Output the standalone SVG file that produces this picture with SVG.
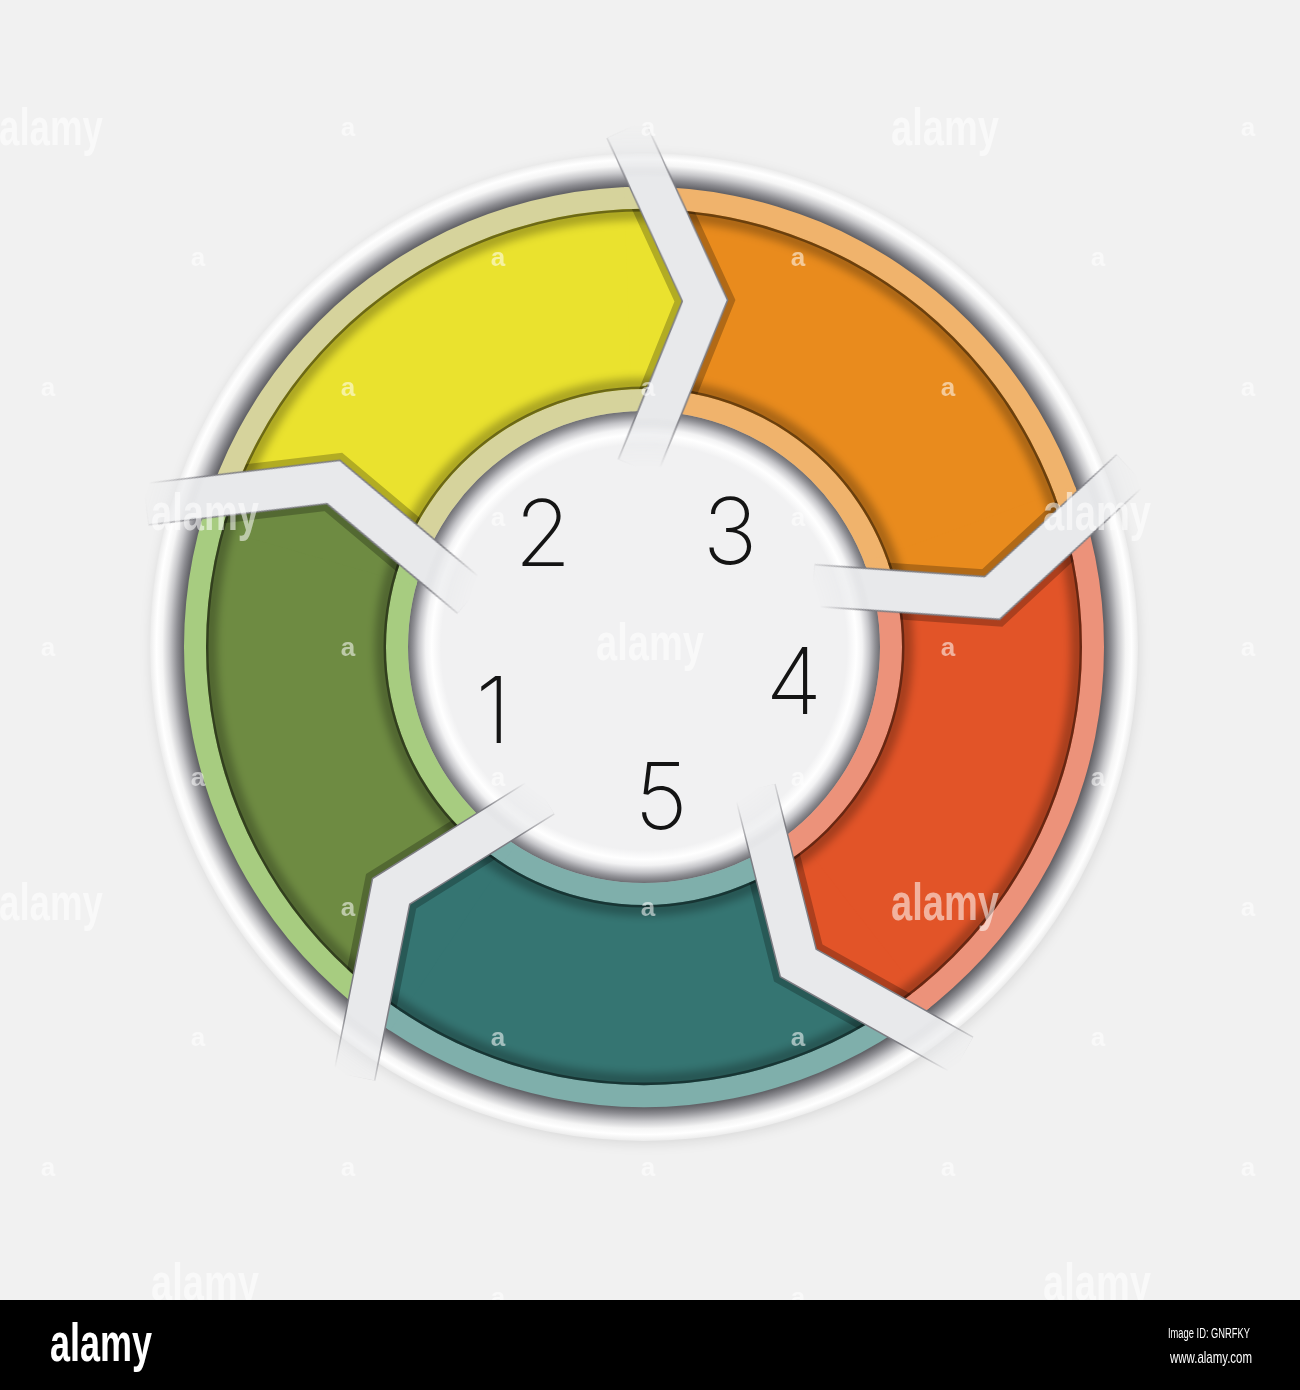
<svg xmlns="http://www.w3.org/2000/svg" xmlns:xlink="http://www.w3.org/1999/xlink" width="1300" height="1390" viewBox="0 0 1300 1390">
<style>
.num{font-family:Inter,"Noto Sans","Open Sans",sans-serif;font-weight:200;font-size:92px;fill:#141414;text-anchor:middle}
.wm{font-family:"Liberation Sans Narrow","Liberation Sans",sans-serif;font-weight:bold;font-size:52px;fill:#ffffff;fill-opacity:.55;text-anchor:middle}
.wa{font-family:"Liberation Sans Narrow","Liberation Sans",sans-serif;font-weight:bold;font-size:26px;fill:#ffffff;fill-opacity:.55;text-anchor:middle}
.foot{font-family:"Liberation Sans Narrow","Liberation Sans",sans-serif;fill:#ffffff}
</style>
<defs>
<polygon id="wedge" points="0,0 180,0 344,73 518,0 700,0 566.3,411.5 216.3,665.7"/>
<polygon id="head" points="180,0 344,73 518,0 518,-4 180,-4"/>
<polyline id="gapline" points="180,0 344,73 518,0" fill="none"/>
<clipPath id="bandClip"><path clip-rule="evenodd" d="M184,647 A460,460 0 1 0 1104,647 A460,460 0 1 0 184,647 Z M408,647 A236,236 0 1 0 880,647 A236,236 0 1 0 408,647 Z"/></clipPath>
<clipPath id="fillClip"><path clip-rule="evenodd" d="M206,647 A438,438 0 1 0 1082,647 A438,438 0 1 0 206,647 Z M386,647 A258,258 0 1 0 902,647 A258,258 0 1 0 386,647 Z"/></clipPath>
<radialGradient id="plateGrad" gradientUnits="userSpaceOnUse" cx="644" cy="647" r="494">
<stop offset="0" stop-color="#f1f1f1"/>
<stop offset="0.92" stop-color="#5c5c61"/>
<stop offset="0.933" stop-color="#646469"/>
<stop offset="0.945" stop-color="#8c8c91"/>
<stop offset="0.96" stop-color="#c7c7ca"/>
<stop offset="0.975" stop-color="#f5f5f5"/>
<stop offset="0.987" stop-color="#ffffff"/>
<stop offset="1" stop-color="#ececec"/>
</radialGradient>
<radialGradient id="diskGrad" gradientUnits="userSpaceOnUse" cx="644" cy="647" r="236">
<stop offset="0" stop-color="#f1f1f2"/>
<stop offset="0.86" stop-color="#f1f1f2"/>
<stop offset="0.9" stop-color="#ffffff"/>
<stop offset="0.925" stop-color="#f3f3f4"/>
<stop offset="0.955" stop-color="#c4c4c8"/>
<stop offset="0.98" stop-color="#909095"/>
<stop offset="1" stop-color="#6e6e73"/>
</radialGradient>
<radialGradient id="gapMaskGrad" gradientUnits="userSpaceOnUse" cx="644" cy="647" r="522">
<stop offset="0.345" stop-color="#000"/>
<stop offset="0.44" stop-color="#fff"/>
<stop offset="0.9" stop-color="#fff"/>
<stop offset="1" stop-color="#000"/>
</radialGradient>
<mask id="gapMask" maskUnits="userSpaceOnUse" x="0" y="0" width="1300" height="1300">
<rect x="0" y="0" width="1300" height="1300" fill="url(#gapMaskGrad)"/>
</mask>
<filter id="blur6" x="-20%" y="-20%" width="140%" height="140%"><feGaussianBlur stdDeviation="6"/></filter>
<filter id="blur4" x="-20%" y="-20%" width="140%" height="140%"><feGaussianBlur stdDeviation="4"/></filter>
</defs>

<rect x="0" y="0" width="1300" height="1300" fill="#f1f1f1"/>

<g id="plate">
<circle cx="645" cy="650" r="494" fill="#000" fill-opacity="0.10" filter="url(#blur6)"/>
<circle cx="644" cy="647" r="494" fill="url(#plateGrad)"/>
<circle cx="644" cy="647" r="236" fill="url(#diskGrad)"/>
</g>

<g id="segment-3">
<g clip-path="url(#bandClip)" fill="#f0b36c"><use xlink:href="#wedge" transform="translate(644,647) rotate(-92)"/><use xlink:href="#head" transform="translate(644,647) rotate(-20)"/></g>
<g clip-path="url(#fillClip)" fill="#e98b1d"><use xlink:href="#wedge" transform="translate(644,647) rotate(-92)"/><use xlink:href="#head" transform="translate(644,647) rotate(-20)"/></g>
<text class="num" x="730" y="564">3</text>
</g>
<g id="segment-4">
<g clip-path="url(#bandClip)" fill="#ec927a"><use xlink:href="#wedge" transform="translate(644,647) rotate(-20)"/><use xlink:href="#head" transform="translate(644,647) rotate(52)"/></g>
<g clip-path="url(#fillClip)" fill="#e25428"><use xlink:href="#wedge" transform="translate(644,647) rotate(-20)"/><use xlink:href="#head" transform="translate(644,647) rotate(52)"/></g>
<text class="num" x="794" y="714">4</text>
</g>
<g id="segment-5">
<g clip-path="url(#bandClip)" fill="#7fafab"><use xlink:href="#wedge" transform="translate(644,647) rotate(52)"/><use xlink:href="#head" transform="translate(644,647) rotate(124)"/></g>
<g clip-path="url(#fillClip)" fill="#357572"><use xlink:href="#wedge" transform="translate(644,647) rotate(52)"/><use xlink:href="#head" transform="translate(644,647) rotate(124)"/></g>
<text class="num" x="661" y="829">5</text>
</g>
<g id="segment-1">
<g clip-path="url(#bandClip)" fill="#a7cc80"><use xlink:href="#wedge" transform="translate(644,647) rotate(124)"/><use xlink:href="#head" transform="translate(644,647) rotate(196)"/></g>
<g clip-path="url(#fillClip)" fill="#6e8b42"><use xlink:href="#wedge" transform="translate(644,647) rotate(124)"/><use xlink:href="#head" transform="translate(644,647) rotate(196)"/></g>
<text class="num" x="493" y="743">1</text>
</g>
<g id="segment-2">
<g clip-path="url(#bandClip)" fill="#d6d39c"><use xlink:href="#wedge" transform="translate(644,647) rotate(196)"/><use xlink:href="#head" transform="translate(644,647) rotate(268)"/></g>
<g clip-path="url(#fillClip)" fill="#eae22e"><use xlink:href="#wedge" transform="translate(644,647) rotate(196)"/><use xlink:href="#head" transform="translate(644,647) rotate(268)"/></g>
<text class="num" x="543" y="566">2</text>
</g>

<g id="fill-shading" clip-path="url(#fillClip)">
<circle cx="644" cy="647" r="262" fill="none" stroke="#000" stroke-opacity="0.28" stroke-width="14" filter="url(#blur4)"/>
<circle cx="644" cy="647" r="434" fill="none" stroke="#000" stroke-opacity="0.28" stroke-width="14" filter="url(#blur4)"/>
<circle cx="644" cy="647" r="258" fill="none" stroke="#000" stroke-opacity="0.4" stroke-width="5"/>
<circle cx="644" cy="647" r="438" fill="none" stroke="#000" stroke-opacity="0.4" stroke-width="5"/>
<g stroke="#000" stroke-opacity="0.24" stroke-width="56" stroke-linejoin="miter" fill="none">
<use xlink:href="#gapline" transform="translate(644,647) rotate(-92)"/>
<use xlink:href="#gapline" transform="translate(644,647) rotate(-20)"/>
<use xlink:href="#gapline" transform="translate(644,647) rotate(52)"/>
<use xlink:href="#gapline" transform="translate(644,647) rotate(124)"/>
<use xlink:href="#gapline" transform="translate(644,647) rotate(196)"/>
</g>
</g>

<g id="connectors" mask="url(#gapMask)" fill="none" stroke-linejoin="miter">
<g stroke="#7d7d83" stroke-width="43">
<use xlink:href="#gapline" transform="translate(644,647) rotate(-92)"/>
<use xlink:href="#gapline" transform="translate(644,647) rotate(-20)"/>
<use xlink:href="#gapline" transform="translate(644,647) rotate(52)"/>
<use xlink:href="#gapline" transform="translate(644,647) rotate(124)"/>
<use xlink:href="#gapline" transform="translate(644,647) rotate(196)"/>
</g>
<g stroke="#e8e9eb" stroke-width="40">
<use xlink:href="#gapline" transform="translate(644,647) rotate(-92)"/>
<use xlink:href="#gapline" transform="translate(644,647) rotate(-20)"/>
<use xlink:href="#gapline" transform="translate(644,647) rotate(52)"/>
<use xlink:href="#gapline" transform="translate(644,647) rotate(124)"/>
<use xlink:href="#gapline" transform="translate(644,647) rotate(196)"/>
</g>
</g>

<g id="watermarks">
<text class="wm" x="51" y="145" textLength="104" lengthAdjust="spacingAndGlyphs">alamy</text>
<text class="wm" x="945" y="145" textLength="108" lengthAdjust="spacingAndGlyphs">alamy</text>
<text class="wm" x="205" y="530" textLength="108" lengthAdjust="spacingAndGlyphs">alamy</text>
<text class="wm" x="1097" y="530" textLength="108" lengthAdjust="spacingAndGlyphs">alamy</text>
<text class="wm" x="650" y="660" textLength="108" lengthAdjust="spacingAndGlyphs">alamy</text>
<text class="wm" x="51" y="920" textLength="104" lengthAdjust="spacingAndGlyphs">alamy</text>
<text class="wm" x="945" y="920" textLength="108" lengthAdjust="spacingAndGlyphs">alamy</text>
<text class="wm" x="205" y="1300" textLength="108" lengthAdjust="spacingAndGlyphs">alamy</text>
<text class="wm" x="1097" y="1300" textLength="108" lengthAdjust="spacingAndGlyphs">alamy</text>
<text class="wa" x="348" y="136">a</text><text class="wa" x="648" y="136">a</text><text class="wa" x="1248" y="136">a</text>
<text class="wa" x="198" y="266">a</text><text class="wa" x="498" y="266">a</text><text class="wa" x="798" y="266">a</text><text class="wa" x="1098" y="266">a</text>
<text class="wa" x="48" y="396">a</text><text class="wa" x="348" y="396">a</text><text class="wa" x="648" y="396">a</text><text class="wa" x="948" y="396">a</text><text class="wa" x="1248" y="396">a</text>
<text class="wa" x="498" y="526">a</text><text class="wa" x="798" y="526">a</text>
<text class="wa" x="48" y="656">a</text><text class="wa" x="348" y="656">a</text><text class="wa" x="948" y="656">a</text><text class="wa" x="1248" y="656">a</text>
<text class="wa" x="198" y="786">a</text><text class="wa" x="498" y="786">a</text><text class="wa" x="798" y="786">a</text><text class="wa" x="1098" y="786">a</text>
<text class="wa" x="348" y="916">a</text><text class="wa" x="648" y="916">a</text><text class="wa" x="1248" y="916">a</text>
<text class="wa" x="198" y="1046">a</text><text class="wa" x="498" y="1046">a</text><text class="wa" x="798" y="1046">a</text><text class="wa" x="1098" y="1046">a</text>
<text class="wa" x="48" y="1176">a</text><text class="wa" x="348" y="1176">a</text><text class="wa" x="648" y="1176">a</text><text class="wa" x="948" y="1176">a</text><text class="wa" x="1248" y="1176">a</text>
<text class="wa" x="498" y="1306">a</text><text class="wa" x="798" y="1306">a</text>
</g>

<g id="footer">
<rect x="0" y="1300" width="1300" height="90" fill="#000"/>
<text class="foot" x="50" y="1361" font-size="54" font-weight="bold" textLength="102" lengthAdjust="spacingAndGlyphs">alamy</text>
<text class="foot" x="1250" y="1338" font-size="14" text-anchor="end" textLength="82" lengthAdjust="spacingAndGlyphs">Image ID: GNRFKY</text>
<text class="foot" x="1252" y="1363" font-size="17" text-anchor="end" textLength="82" lengthAdjust="spacingAndGlyphs">www.alamy.com</text>
</g>
</svg>
